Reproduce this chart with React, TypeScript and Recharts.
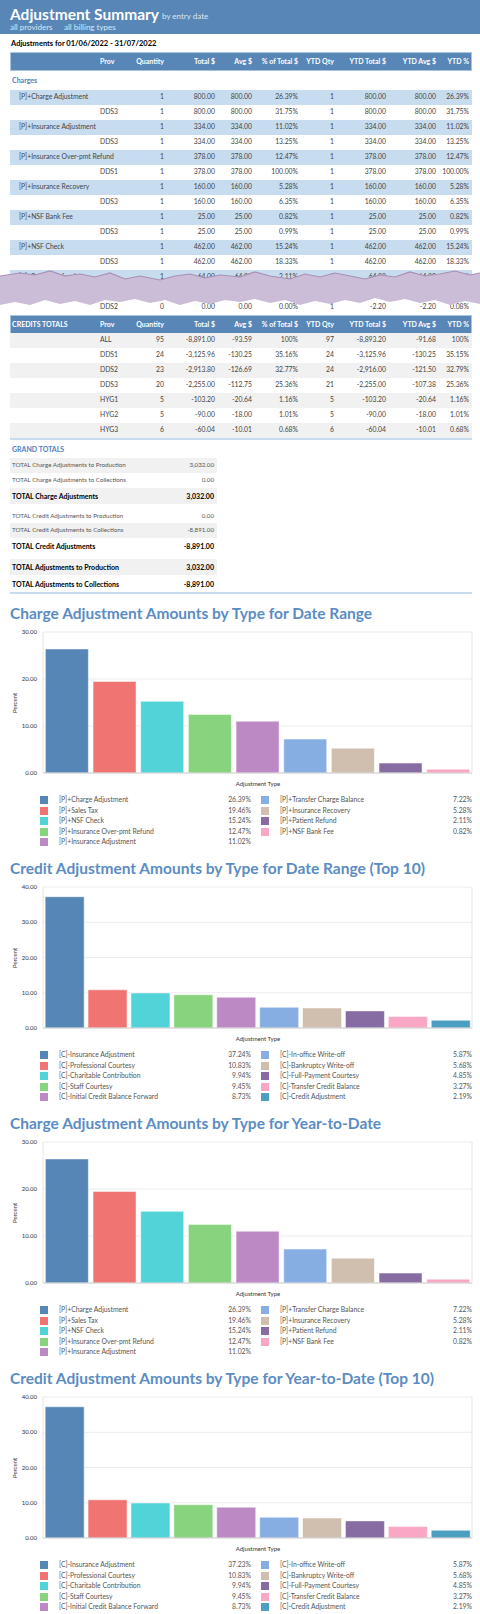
import React from 'react'
import { BarChart, Bar, XAxis, YAxis, CartesianGrid, Cell } from 'recharts'

// chart data
const chargeTypes = [
  '[P]+Charge Adjustment',
  '[P]+Sales Tax',
  '[P]+NSF Check',
  '[P]+Insurance Over-pmt Refund',
  '[P]+Insurance Adjustment',
  '[P]+Transfer Charge Balance',
  '[P]+Insurance Recovery',
  '[P]+Patient Refund',
  '[P]+NSF Bank Fee',
]
const chargeRangePct = [26.39, 19.46, 15.24, 12.47, 11.02, 7.22, 5.28, 2.11, 0.82]
const chargeYtdPct = [26.39, 19.46, 15.24, 12.47, 11.02, 7.22, 5.28, 2.11, 0.82]

const creditTypes = [
  '[C]-Insurance Adjustment',
  '[C]-Professional Courtesy',
  '[C]-Charitable Contribution',
  '[C]-Staff Courtesy',
  '[C]-Initial Credit Balance Forward',
  '[C]-In-office Write-off',
  '[C]-Bankruptcy Write-off',
  '[C]-Full-Payment Courtesy',
  '[C]-Transfer Credit Balance',
  '[C]-Credit Adjustment',
]
const creditRangePct = [37.24, 10.83, 9.94, 9.45, 8.73, 5.87, 5.68, 4.85, 3.27, 2.19]
const creditYtdPct = [37.23, 10.83, 9.94, 9.45, 8.73, 5.87, 5.68, 4.85, 3.27, 2.19]

const chargeTicks = [0, 10, 20, 30]
const creditTicks = [0, 10, 20, 30, 40]

const palette = [
  '#5586b6',
  '#f07472',
  '#52d3d8',
  '#88d37e',
  '#bd89c5',
  '#86aee3',
  '#d0bfae',
  '#866ca3',
  '#f9a7c4',
  '#4c9fc1',
]

// table text
const headerCols = ['Quantity', 'Total $', 'Avg $', '% of Total $', 'YTD Qty', 'YTD Total $', 'YTD Avg $', 'YTD %']

const chargeRows: [string, string, string[]][] = [
  ['[P]+Charge Adjustment', '', ['1', '800.00', '800.00', '26.39%', '1', '800.00', '800.00', '26.39%']],
  ['', 'DDS3', ['1', '800.00', '800.00', '31.75%', '1', '800.00', '800.00', '31.75%']],
  ['[P]+Insurance Adjustment', '', ['1', '334.00', '334.00', '11.02%', '1', '334.00', '334.00', '11.02%']],
  ['', 'DDS3', ['1', '334.00', '334.00', '13.25%', '1', '334.00', '334.00', '13.25%']],
  ['[P]+Insurance Over-pmt Refund', '', ['1', '378.00', '378.00', '12.47%', '1', '378.00', '378.00', '12.47%']],
  ['', 'DDS1', ['1', '378.00', '378.00', '100.00%', '1', '378.00', '378.00', '100.00%']],
  ['[P]+Insurance Recovery', '', ['1', '160.00', '160.00', '5.28%', '1', '160.00', '160.00', '5.28%']],
  ['', 'DDS3', ['1', '160.00', '160.00', '6.35%', '1', '160.00', '160.00', '6.35%']],
  ['[P]+NSF Bank Fee', '', ['1', '25.00', '25.00', '0.82%', '1', '25.00', '25.00', '0.82%']],
  ['', 'DDS3', ['1', '25.00', '25.00', '0.99%', '1', '25.00', '25.00', '0.99%']],
  ['[P]+NSF Check', '', ['1', '462.00', '462.00', '15.24%', '1', '462.00', '462.00', '15.24%']],
  ['', 'DDS3', ['1', '462.00', '462.00', '18.33%', '1', '462.00', '462.00', '18.33%']],
  ['[P]+Patient Refund', '', ['1', '64.00', '64.00', '2.11%', '1', '64.00', '64.00', '2.11%']],
]
const afterTearRow: [string, string, string[]] = ['', 'DDS2', ['0', '0.00', '0.00', '0.00%', '1', '-2.20', '-2.20', '0.08%']]

const creditRows: [string, string[]][] = [
  ['ALL', ['95', '-8,891.00', '-93.59', '100%', '97', '-8,893.20', '-91.68', '100%']],
  ['DDS1', ['24', '-3,125.96', '-130.25', '35.16%', '24', '-3,125.96', '-130.25', '35.15%']],
  ['DDS2', ['23', '-2,913.80', '-126.69', '32.77%', '24', '-2,916.00', '-121.50', '32.79%']],
  ['DDS3', ['20', '-2,255.00', '-112.75', '25.36%', '21', '-2,255.00', '-107.38', '25.36%']],
  ['HYG1', ['5', '-103.20', '-20.64', '1.16%', '5', '-103.20', '-20.64', '1.16%']],
  ['HYG2', ['5', '-90.00', '-18.00', '1.01%', '5', '-90.00', '-18.00', '1.01%']],
  ['HYG3', ['6', '-60.04', '-10.01', '0.68%', '6', '-60.04', '-10.01', '0.68%']],
]

const grandLabels = [
  'TOTAL Charge Adjustments to Production',
  'TOTAL Charge Adjustments to Collections',
  'TOTAL Charge Adjustments',
  'TOTAL Credit Adjustments to Production',
  'TOTAL Credit Adjustments to Collections',
  'TOTAL Credit Adjustments',
  'TOTAL Adjustments to Production',
  'TOTAL Adjustments to Collections',
]
const grandValues = ['3,032.00', '0.00', '3,032.00', '0.00', '-8,891.00', '-8,891.00', '3,032.00', '-8,891.00']
const grandBold = [false, false, true, false, false, true, true, true]

const W = 480
const font = 'Lato, "Open Sans", sans-serif'
const colRight = [164, 215, 252, 298, 334, 386, 436, 469]
const blue = '#5886b7'

const T = ({
  x,
  y,
  children,
  align = 'left',
  size = 6.8,
  color = '#444',
  weight = 400,
}: {
  x: number
  y: number
  children: React.ReactNode
  align?: 'left' | 'right' | 'center'
  size?: number
  color?: string
  weight?: number
}) => {
  const pos =
    align === 'left'
      ? { left: x }
      : align === 'right'
        ? { right: W - x }
        : { left: x - 100, width: 200, textAlign: 'center' as const }
  return (
    <div
      style={{
        position: 'absolute',
        top: y - size,
        height: size * 2,
        lineHeight: `${size * 2}px`,
        fontSize: size,
        color,
        fontWeight: weight,
        whiteSpace: 'nowrap',
        ...pos,
      }}
    >
      {children}
    </div>
  )
}

const Band = ({ y, h, color, x = 10, w = 462 }: { y: number; h: number; color: string; x?: number; w?: number }) => (
  <div style={{ position: 'absolute', left: x, top: y, width: w, height: h, background: color }} />
)

const TableRow = ({ y, label, prov, vals, bg }: { y: number; label: string; prov: string; vals: string[]; bg?: string }) => (
  <>
    {bg && <Band y={y - 7.5} h={15} color={bg} />}
    {label && <T x={19} y={y}>{label}</T>}
    {prov && <T x={100} y={y}>{prov}</T>}
    {vals.map((v, i) => (
      <T key={i} x={colRight[i]} y={y} align='right'>
        {v}
      </T>
    ))}
  </>
)

const HeaderRow = ({ y, first }: { y: number; first?: string }) => (
  <>
    <div
      style={{
        position: 'absolute',
        left: 10,
        top: y - 8.5,
        width: 460,
        height: 17,
        background: blue,
        border: '1px solid #a9c4e0',
      }}
    />
    {first && (
      <T x={12} y={y} color='#fff' weight={700} size={7}>
        {first}
      </T>
    )}
    <T x={100} y={y} color='#fff' weight={700} size={7}>
      Prov
    </T>
    {headerCols.map((c, i) => (
      <T key={c} x={colRight[i]} y={y} align='right' color='#fff' weight={700} size={7}>
        {c}
      </T>
    ))}
  </>
)

const tearTop = [
  [0, 276], [20, 273], [35, 275], [50, 271], [65, 276], [80, 274], [95, 277], [110, 273], [125, 279],
  [140, 276], [160, 280], [175, 276], [190, 274], [205, 278], [220, 275], [240, 277], [255, 272],
  [270, 276], [290, 279], [305, 274], [320, 277], [335, 273], [350, 276], [365, 279], [380, 275],
  [395, 277], [410, 272], [425, 276], [440, 274], [455, 271], [470, 275], [480, 273],
]
const tearBottom = [
  [480, 304], [465, 301], [450, 305], [435, 300], [420, 303], [405, 299], [390, 302], [375, 298],
  [360, 303], [345, 300], [330, 304], [315, 301], [300, 305], [285, 300], [270, 303], [255, 299],
  [240, 302], [225, 300], [210, 304], [195, 301], [180, 305], [165, 300], [150, 303], [135, 299],
  [120, 302], [105, 300], [90, 305], [75, 301], [60, 304], [45, 300], [30, 305], [15, 302], [0, 305],
]

const ChartBlock = ({
  top,
  title,
  names,
  values,
  ticks,
}: {
  top: number
  title: string
  names: string[]
  values: number[]
  ticks: number[]
}) => {
  const data = names.map((name, i) => ({ name, value: values[i], pct: values[i].toFixed(2) + '%' }))
  const yMax = ticks[ticks.length - 1]
  const cols = [data.slice(0, 5), data.slice(5)]
  return (
    <>
      <div
        style={{
          position: 'absolute',
          left: 10,
          top: top - 12,
          height: 24,
          lineHeight: '24px',
          fontSize: 15.5,
          fontWeight: 700,
          color: '#5b8cc3',
          whiteSpace: 'nowrap',
        }}
      >
        {title}
      </div>
      <div style={{ position: 'absolute', left: 0, top: top + 14 }}>
        <BarChart width={480} height={151} data={data} margin={{ top: 5, right: 7, bottom: 4, left: 0 }} barCategoryGap='5%'>
          <CartesianGrid vertical={false} stroke='#ececec' yAxisId='p' />
          <XAxis dataKey='name' tick={false} tickLine={false} height={1} axisLine={{ stroke: '#cfcfcf' }} />
          <YAxis
            yAxisId='p'
            domain={[0, yMax]}
            ticks={ticks}
            interval={0}
            tickFormatter={(v: number) => v.toFixed(2)}
            width={43}
            tickLine={false}
            tickSize={4}
            tickMargin={2}
            axisLine={{ stroke: '#e4e4e4' }}
            tick={{ fontSize: 6, fill: '#333', fontFamily: font }}
          />
          <YAxis
            yAxisId='r'
            orientation='right'
            domain={[0, yMax]}
            ticks={ticks}
            tick={false}
            tickLine={false}
            width={1}
            axisLine={{ stroke: '#e4e4e4' }}
          />
          <Bar yAxisId='p' dataKey='value' isAnimationActive={false} stroke='#ffffff' strokeOpacity={0.5}>
            {data.map((d, i) => (
              <Cell key={d.name} fill={palette[i]} />
            ))}
          </Bar>
        </BarChart>
      </div>
      <div
        style={{
          position: 'absolute',
          left: 15 - 30,
          top: top + 89.5 - 6,
          width: 60,
          height: 12,
          lineHeight: '12px',
          fontSize: 6,
          color: '#333',
          textAlign: 'center',
          transform: 'rotate(-90deg)',
        }}
      >
        Percent
      </div>
      <T x={258} y={top + 171} align='center' size={6} color='#333'>
        Adjustment Type
      </T>
      {cols.map((col, c) =>
        col.map((d, r) => {
          const i = c * 5 + r
          const y = top + 187 + r * 10.5
          const x0 = c === 0 ? 40 : 261
          return (
            <React.Fragment key={d.name}>
              <div style={{ position: 'absolute', left: x0, top: y - 4, width: 8, height: 8, background: palette[i] }} />
              <T x={x0 + 19} y={y} color='#555'>
                {d.name}
              </T>
              <T x={c === 0 ? 251 : 472} y={y} align='right' color='#555'>
                {d.pct}
              </T>
            </React.Fragment>
          )
        }),
      )}
    </>
  )
}

export default function App() {
  return (
    <div
      style={{
        position: 'absolute',
        left: 0,
        top: 0,
        width: W,
        height: 1614,
        background: '#fff',
        fontFamily: font,
        overflow: 'hidden',
      }}
    >
      {/* page header */}
      <div style={{ position: 'absolute', left: 0, top: 0, width: W, height: 34, background: blue }} />
      <T x={10} y={14} size={15.5} color='#fff' weight={700}>
        Adjustment Summary
      </T>
      <T x={162} y={16} size={8} color='#dbe6f2'>
        by entry date
      </T>
      <T x={10} y={27} size={8} color='#dbe6f2'>
        all providers
      </T>
      <T x={64} y={27} size={8} color='#dbe6f2'>
        all billing types
      </T>
      <T x={11} y={43} size={7.5} color='#000' weight={700}>
        Adjustments for 01/06/2022 - 31/07/2022
      </T>

      {/* charges table */}
      <HeaderRow y={60.5} />
      <T x={12} y={80} size={7} color='#4f81bd' weight={700}>
        Charges
      </T>
      {chargeRows.map(([label, prov, vals], i) => (
        <TableRow key={i} y={97 + 15 * i} label={label} prov={prov} vals={vals} bg={label ? '#c8dcf0' : undefined} />
      ))}
      <TableRow y={307} label={afterTearRow[0]} prov={afterTearRow[1]} vals={afterTearRow[2]} />

      {/* torn paper */}
      <svg style={{ position: 'absolute', left: 0, top: 0 }} width={W} height={320}>
        <polygon points={[...tearTop, ...tearBottom].map((p) => p.join(',')).join(' ')} fill='#cbbdd8' />
        <polyline points={tearTop.map((p) => p.join(',')).join(' ')} fill='none' stroke='#a98fb5' strokeWidth={1.2} />
      </svg>

      {/* credits totals */}
      <HeaderRow y={323.5} first='CREDITS TOTALS' />
      {creditRows.map(([prov, vals], i) => (
        <TableRow key={prov} y={340 + 15 * i} label='' prov={prov} vals={vals} bg={i % 2 === 0 ? '#f1f1f1' : undefined} />
      ))}
      <Band y={438} h={1.5} color='#c8dcf0' />

      {/* grand totals */}
      <T x={12} y={449} size={7} color='#4f81bd' weight={700}>
        GRAND TOTALS
      </T>
      {grandLabels.map((label, i) => {
        const ys = [465, 480, 496, 516, 530.5, 546, 567, 584]
        const bgs = [true, false, true, false, true, false, true, false]
        const bold = grandBold[i]
        const h = bold ? 16 : 15
        return (
          <React.Fragment key={label}>
            {bgs[i] && <Band y={ys[i] - h / 2} h={h} color='#f1f1f1' w={207} />}
            <T x={12} y={ys[i]} size={bold ? 7 : 6.2} color={bold ? '#000' : '#555'} weight={bold ? 700 : 400}>
              {label}
            </T>
            <T x={214} y={ys[i]} align='right' size={bold ? 7 : 6.2} color={bold ? '#000' : '#555'} weight={bold ? 700 : 400}>
              {grandValues[i]}
            </T>
          </React.Fragment>
        )
      })}
      <Band y={592} h={1.5} color='#c8dcf0' />

      <ChartBlock top={613} title='Charge Adjustment Amounts by Type for Date Range' names={chargeTypes} values={chargeRangePct} ticks={chargeTicks} />
      <ChartBlock top={868} title='Credit Adjustment Amounts by Type for Date Range (Top 10)' names={creditTypes} values={creditRangePct} ticks={creditTicks} />
      <ChartBlock top={1123} title='Charge Adjustment Amounts by Type for Year-to-Date' names={chargeTypes} values={chargeYtdPct} ticks={chargeTicks} />
      <ChartBlock top={1378} title='Credit Adjustment Amounts by Type for Year-to-Date (Top 10)' names={creditTypes} values={creditYtdPct} ticks={creditTicks} />
    </div>
  )
}
